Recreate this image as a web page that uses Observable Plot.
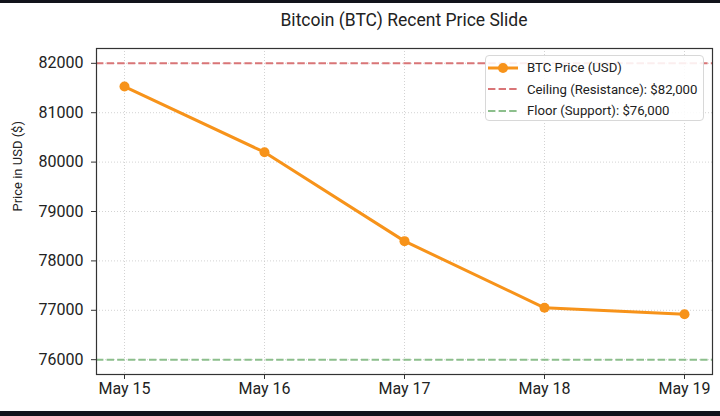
<!DOCTYPE html>
<html><head><meta charset="utf-8">
<script src="https://cdn.jsdelivr.net/npm/d3@7"></script>
<script src="https://cdn.jsdelivr.net/npm/@observablehq/plot@0.6"></script>
<style>
body{margin:0;background:#fff;font-family:Roboto,"Open Sans",sans-serif}
#page{position:relative;width:720px;height:416px;overflow:hidden;background:#fff}
.band{position:absolute;left:0;width:720px;background:#11131b}
#title{position:absolute;left:96px;width:616px;top:9px;text-align:center;font-size:17.5px;color:#222;line-height:22px}
#chart{position:absolute;left:0;top:40px}
#legend{position:absolute;left:485px;top:55px;width:219px;height:66px;border:1px solid #d8d8d8;border-radius:4px;background:rgba(255,255,255,0.88);box-sizing:border-box;padding-top:1px}
.row{display:flex;align-items:center;height:21.5px;font-size:13.2px;color:#222}
.row svg{margin-left:2px;margin-right:9px}
</style></head><body>
<div id="page">
  <div class="band" style="top:0;height:3px"></div>
  <div id="title">Bitcoin (BTC) Recent Price Slide</div>
  <div id="chart"></div>
  <div id="legend"></div>
  <div class="band" style="top:411px;height:5px"></div>
</div>
<script>
const dates = ["May 15", "May 16", "May 17", "May 18", "May 19"];
const prices = [81530, 80200, 78400, 77050, 76920];
const ceiling = 82000;
const floor = 76000;
const yTicks = [76000, 77000, 78000, 79000, 80000, 81000, 82000];
const legendLabels = ["BTC Price (USD)", "Ceiling (Resistance): $82,000", "Floor (Support): $76,000"];
const yLabel = "Price in USD ($)";

const orange = "#F7931A", red = "#d97577", green = "#8cbf8c";
const data = dates.map((d, i) => ({date: d, price: prices[i]}));

const chart = Plot.plot({
  width: 720, height: 371,
  marginTop: 8, marginBottom: 37, marginLeft: 96, marginRight: 8,
  style: {fontFamily: "Roboto, sans-serif", fontSize: "16px", color: "#222", background: "transparent"},
  x: {type: "point", domain: dates, padding: 0.2},
  y: {domain: [75700, 82300]},
  marks: [
    Plot.gridX(dates, {stroke: "#c8c8c8", strokeOpacity: 0.8, strokeDasharray: "1,2"}),
    Plot.gridY(yTicks, {stroke: "#c8c8c8", strokeOpacity: 0.8, strokeDasharray: "1,2"}),
    Plot.ruleY([ceiling], {stroke: red, strokeWidth: 2, strokeDasharray: "7.4,3.2"}),
    Plot.ruleY([floor], {stroke: green, strokeWidth: 2, strokeDasharray: "7.4,3.2"}),
    Plot.line(data, {x: "date", y: "price", stroke: orange, strokeWidth: 3}),
    Plot.dot(data, {x: "date", y: "price", r: 5, fill: orange}),
    Plot.frame({stroke: "#333", strokeWidth: 1.2}),
    Plot.axisX({ticks: dates, tickSize: 5, tickPadding: 3, label: null, stroke: "#333"}),
    Plot.axisY({ticks: yTicks, tickSize: 5, tickPadding: 8, tickFormat: d3.format("d"), label: null, stroke: "#333"}),
    Plot.text([yLabel], {frameAnchor: "left", rotate: -90, dx: -79, fontSize: 13, fill: "#222"})
  ]
});
document.getElementById("chart").appendChild(chart);

const legend = document.getElementById("legend");
const handles = [
  `<svg width="30" height="12"><line x1="0" y1="6" x2="30" y2="6" stroke="${orange}" stroke-width="3"/><circle cx="15" cy="6" r="5" fill="${orange}"/></svg>`,
  `<svg width="30" height="12"><line x1="0" y1="6" x2="30" y2="6" stroke="${red}" stroke-width="2" stroke-dasharray="7.4,3.2"/></svg>`,
  `<svg width="30" height="12"><line x1="0" y1="6" x2="30" y2="6" stroke="${green}" stroke-width="2" stroke-dasharray="7.4,3.2"/></svg>`
];
legendLabels.forEach((t, i) => {
  const row = document.createElement("div");
  row.className = "row";
  row.innerHTML = handles[i] + `<span>${t}</span>`;
  legend.appendChild(row);
});
</script>
</body></html>
